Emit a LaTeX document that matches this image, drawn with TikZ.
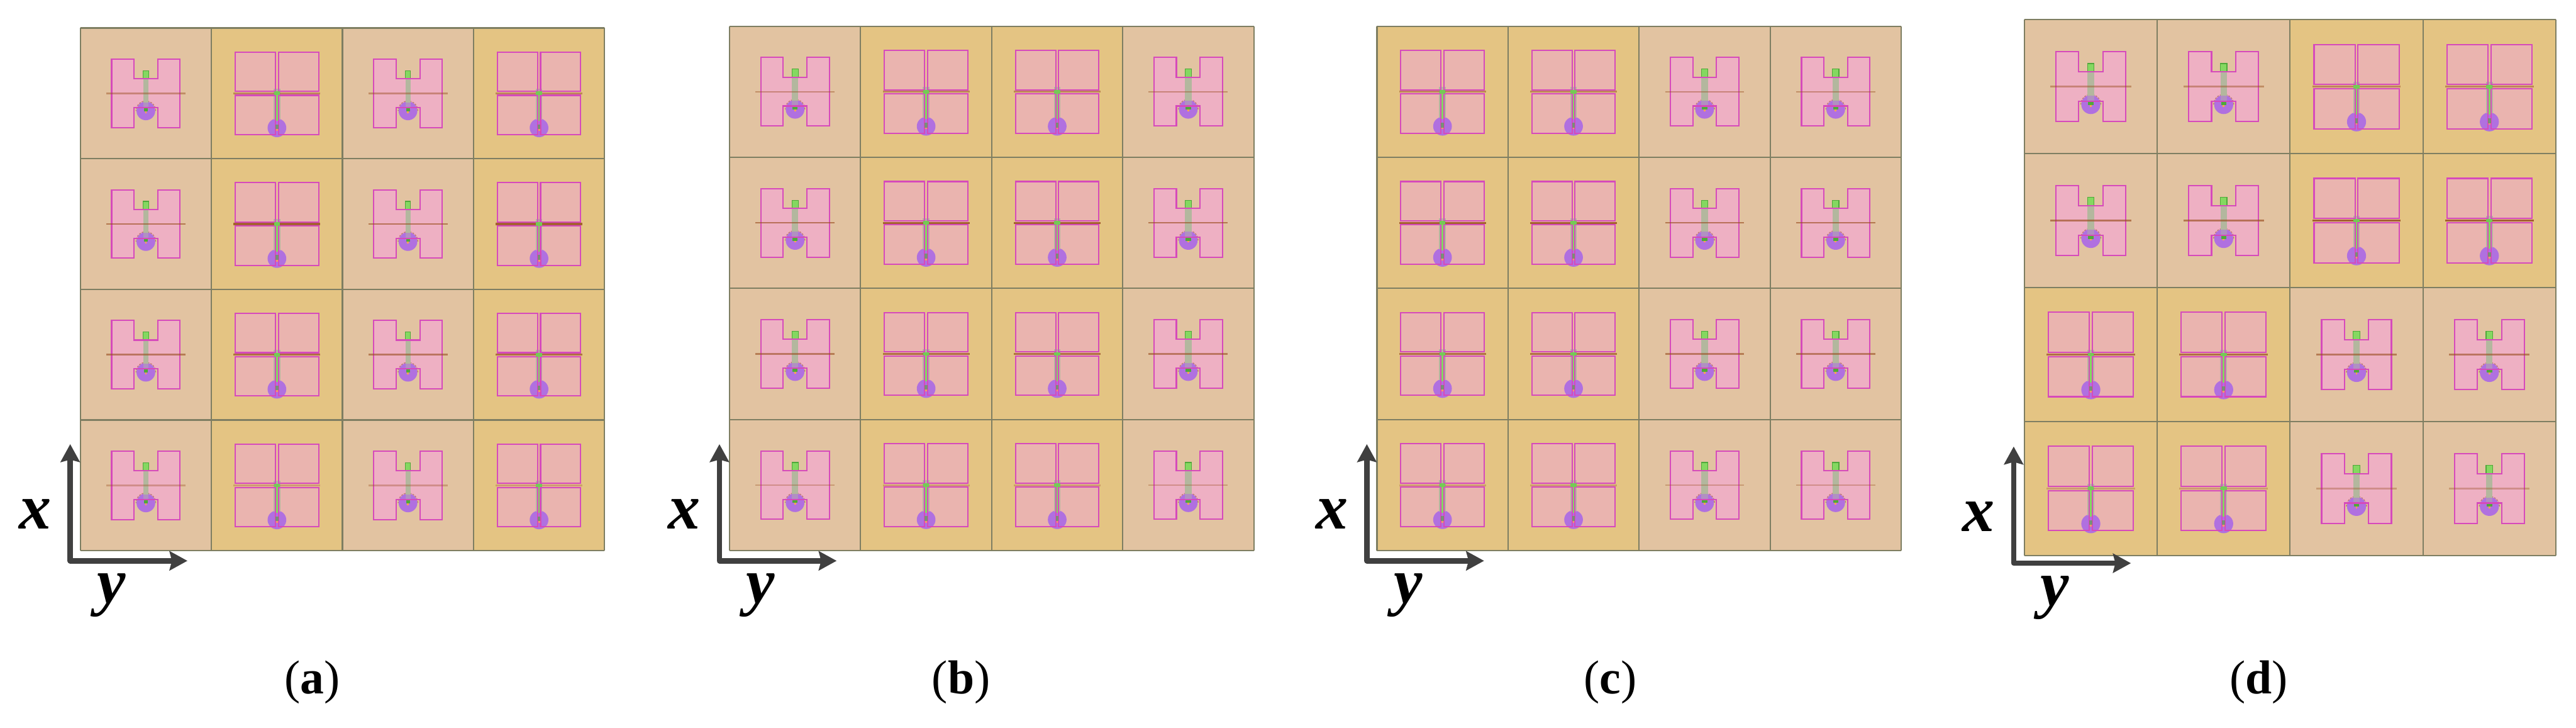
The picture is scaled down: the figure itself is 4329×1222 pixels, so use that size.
\documentclass[tikz,border=0pt]{standalone}
\usepackage{fontspec}
\setmainfont{Liberation Serif}
\usetikzlibrary{arrows.meta}
\definecolor{bgH}{HTML}{E2C3A1}
\definecolor{bgS}{HTML}{E4C483}
\definecolor{fillH}{HTML}{EEB0C3}
\definecolor{fillS}{HTML}{EAB4AF}
\definecolor{edgeM}{HTML}{D64ABB}
\definecolor{gridC}{HTML}{7E7E62}
\definecolor{purp}{HTML}{B070E0}
\definecolor{greenS}{HTML}{84D860}
\definecolor{greenD}{HTML}{4FA83A}
\definecolor{grayS}{HTML}{B3B79E}
\definecolor{brownL}{HTML}{9A4E20}
\definecolor{axisC}{HTML}{404040}
\tikzset{
  x=1pt,y=-1pt,
  patchedge/.style={draw=edgeM,line width=2.2pt,line join=miter},
  gridline/.style={draw=gridC,line width=2.2pt},
  axisline/.style={draw=axisC,line width=9pt,line join=round,{Stealth[length=30pt,width=32pt,inset=4pt]}-{Stealth[length=30pt,width=32pt,inset=4pt]}},
  axlabel/.style={font=\fontsize{108}{108}\selectfont\bfseries\itshape,inner sep=0pt},
  caplabel/.style={font=\fontsize{80}{80}\selectfont,inner sep=0pt}
}
\newcommand{\patchH}[2]{%
  \fill[fillH] (-57.5,-57.5) -- (-20,-57.5) -- (-20,-24.5) -- (20,-24.5) -- (20,-57.5) -- (57.5,-57.5) -- (57.5,57.5) -- (20,57.5) -- (20,24) -- (-20,24) -- (-20,57.5) -- (-57.5,57.5) -- cycle;
  \draw[brownL,opacity=.5,line width=1.6pt,dash pattern=on 3pt off 2pt] (16.5,29.5) arc[start angle=0,end angle=-180,radius=16.5];
  \fill[purp] (0,29.5) circle[radius=15.7];
  \fill[grayS] (-#2,-25) rectangle (#2,15);
  \fill[grayS,opacity=.45] (-#2,14) rectangle (#2,26);
  \fill[greenS] (-#2,-38) rectangle (#2,-24);
  \draw[greenD,line width=1.2pt] (-#2,-25) -- (-#2,-38) -- (#2,-38) -- (#2,-25);
  \fill[greenD] (-#2+1,24) rectangle (#2-1,30);
  \fill[orange!70] (-1.5,30) rectangle (1.5,33);
  \draw[patchedge] (-57.5,-57.5) -- (-20,-57.5) -- (-20,-24.5) -- (20,-24.5) -- (20,-57.5) -- (57.5,-57.5) -- (57.5,57.5) -- (20,57.5) -- (20,24) -- (-20,24) -- (-20,57.5) -- (-57.5,57.5) -- cycle;
  \draw[brownL,opacity=#1,line width=2.6pt] (-66.5,0) -- (66.5,0);
}
\newcommand{\patchS}[1]{%
  \fill[fillS] (-70,-69.5) rectangle (70,69.5);
  \fill[bgS!50!fillS] (-2.5,-69.5) rectangle (2.5,-3.4);
  \fill[bgS!50!fillS] (-70,-3.4) rectangle (70,3.4);
  \fill[bgS!50!fillS] (-2.5,3.4) rectangle (2.5,69.5);
  \fill[purp] (0,58) circle[radius=15.7];
  \fill[grayS] (-5.5,-8) rectangle (5.5,44);
  \fill[greenS] (-2.8,-3) rectangle (2.8,46);
  \draw[patchedge] (-70,-69.5) rectangle (-2.5,-3.4);
  \draw[patchedge] (2.5,-69.5) rectangle (70,-3.4);
  \draw[patchedge] (-70,3.4) rectangle (-2.5,69.5);
  \draw[patchedge] (2.5,3.4) rectangle (70,69.5);
  \fill[greenD,opacity=.6] (-2.5,52) rectangle (2.5,60);
  \fill[orange!70,opacity=.8] (-1.5,60) rectangle (1.5,63);
  \draw[brownL,opacity=#1,line width=3.2pt] (-73,0) -- (73,0);
  \fill[greenS!70!greenD] (-5,-3) rectangle (5,3);
}
\begin{document}
\begin{tikzpicture}
\useasboundingbox (0,0) rectangle (4329,1222);
\fill[white] (0,0) rectangle (4329,1222);
\foreach \px/\py/\cw/\ch/\sc/\ax/\ay/\cx/\sw/\cols/\tag in {
  135/47/220.25/219.5/1/0/0/525/4.4/{0/0/0,1/1/1,2/0/0,3/1/1}/a,
  1226/44/220.25/220.25/1/1091/0/1615/5.4/{0/0/0,1/1/1,2/1/1,3/0/0}/b,
  2314/44/220.25/220.25/1/2179/0/2706/5.4/{0/1/1,1/1/1,2/0/0,3/0/0}/c,
  3402/33/223.25/225/1.02/3266/4/3796/5.4/{0/0/1,1/0/1,2/1/0,3/1/0}/d}{
  \foreach \r/\op/\oph in {0/.5/.45,1/.85/.65,2/.7/.6,3/.3/.35}{
    \foreach \c/\tp/\bt in \cols{
      \ifnum\r<2 \edef\kind{\tp}\else\edef\kind{\bt}\fi
      \ifnum\kind=0 \fill[bgH] (\px+\c*\cw,\py+\r*\ch) rectangle +(\cw,\ch);
      \else \fill[bgS] (\px+\c*\cw,\py+\r*\ch) rectangle +(\cw,\ch);\fi
      \begin{scope}[shift={(\px+\c*\cw+.5*\cw,\py+\r*\ch+.5*\ch)},scale=\sc]
        \ifnum\kind=0 \patchH{\oph}{\sw}\else\patchS{\op}\fi
      \end{scope}
    }
  }
  \foreach \i in {0,...,4}{
    \draw[gridline] (\px+\i*\cw,\py) -- (\px+\i*\cw,\py+4*\ch);
    \draw[gridline] (\px,\py+\i*\ch) -- (\px+4*\cw,\py+\i*\ch);
  }
  \coordinate (xtip\tag) at (118+\ax,746+\ay);
  \coordinate (ytip\tag) at (315+\ax,942+\ay);
  \draw[axisline] (xtip\tag) -- (118+\ax,942+\ay) -- (ytip\tag);
  \node[axlabel] (xl\tag) at (59+\ax,864+\ay) {x};
  \node[axlabel] (yl\tag) at (187+\ax,1000+\ay) {y};
  \node[caplabel] (cap\tag) at (\cx,1146) {(\textbf{\tag})};
}
\end{tikzpicture}
\end{document}
